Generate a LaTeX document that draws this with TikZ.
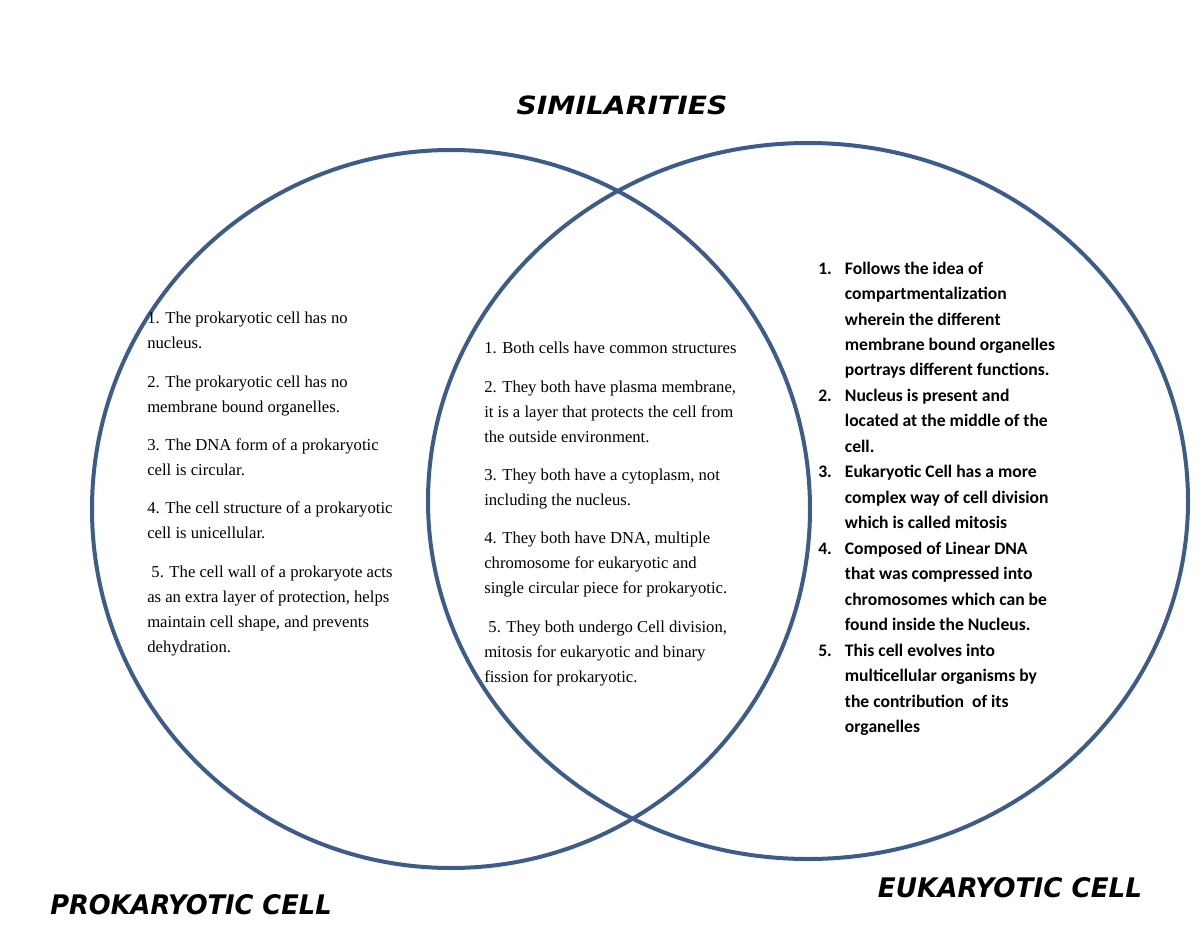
\documentclass[tikz,border=0pt]{standalone}
\usepackage{fontspec}
\setmainfont{Liberation Serif}
\newfontfamily\calib{Carlito}
\newfontfamily\ttl{DejaVu Sans}
\definecolor{ring}{RGB}{62,92,138}
\begin{document}
\begin{tikzpicture}[x=0.75pt,y=-0.75pt,
  ringline/.style={draw=ring,line width=3pt},
  lefttxt/.style={anchor=north west,inner sep=0pt,align=left,font=\fontsize{12.5}{18.75}\selectfont},
  righttxt/.style={anchor=north west,inner sep=0pt,align=left,font=\calib\bfseries\fontsize{13.2}{19.1}\selectfont},
  titletxt/.style={inner sep=0pt,font=\ttl\bfseries\itshape}]
\useasboundingbox (0,0) rectangle (1200,927);
\fill[white] (0,0) rectangle (1200,927);
\draw[ringline] (451,509) ellipse [x radius=359, y radius=359];
\draw[ringline] (808,501) ellipse [x radius=380, y radius=358];
\node[titletxt] (sim) at (622,105) {\resizebox{158pt}{14pt}{SIMILARITIES}};
\node[titletxt] (pro) at (191,905) {\resizebox{211pt}{15pt}{PROKARYOTIC CELL}};
\node[titletxt] (euk) at (1010,888) {\resizebox{198pt}{15pt}{EUKARYOTIC CELL}};
\node[lefttxt] (left) at (147,312) {1. The prokaryotic cell has no\\ nucleus.\\[10pt]
2. The prokaryotic cell has no\\ membrane bound organelles.\\[10pt]
3. The DNA form of a prokaryotic\\ cell is circular.\\[10pt]
4. The cell structure of a prokaryotic\\ cell is unicellular.\\[10pt]
\ 5. The cell wall of a prokaryote acts\\ as an extra layer of protection, helps\\ maintain cell shape, and prevents\\ dehydration.};
\node[lefttxt] (mid) at (484,342) {1. Both cells have common structures\\[10pt]
2. They both have plasma membrane,\\ it is a layer that protects the cell from\\ the outside environment.\\[10pt]
3. They both have a cytoplasm, not\\ including the nucleus.\\[10pt]
4. They both have DNA, multiple\\ chromosome for eukaryotic and\\ single circular piece for prokaryotic.\\[10pt]
\ 5. They both undergo Cell division,\\ mitosis for eukaryotic and binary\\ fission for prokaryotic.};
\node[righttxt] (right) at (818,256) {\begin{tabular}{@{}p{20pt}@{}l@{}}
1. & Follows the idea of\\ & compartmentalization\\ & wherein the different\\ & membrane bound organelles\\ & portrays different functions.\\
2. & Nucleus is present and\\ & located at the middle of the\\ & cell.\\
3. & Eukaryotic Cell has a more\\ & complex way of cell division\\ & which is called mitosis\\
4. & Composed of Linear DNA\\ & that was compressed into\\ & chromosomes which can be\\ & found inside the Nucleus.\\
5. & This cell evolves into\\ & multicellular organisms by\\ & the contribution\ \ of its\\ & organelles
\end{tabular}};
\end{tikzpicture}
\end{document}
